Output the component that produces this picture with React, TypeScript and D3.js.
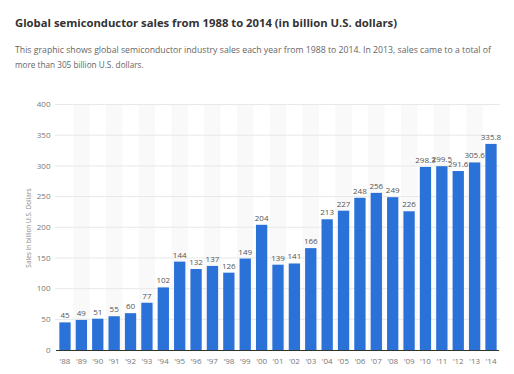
import React from "react";
import * as d3 from "d3";

const years = ["'88","'89","'90","'91","'92","'93","'94","'95","'96","'97","'98","'99","'00","'01","'02","'03","'04","'05","'06","'07","'08","'09","'10","'11","'12","'13","'14"];
const sales = [45,49,51,55,60,77,102,144,132,137,126,149,204,139,141,166,213,227,248,256,249,226,298.3,299.5,291.6,305.6,335.8];
const labels = ["45","49","51","55","60","77","102","144","132","137","126","149","204","139","141","166","213","227","248","256","249","226","298.3","299.5","291.6","305.6","335.8"];
const yTicks = [0,50,100,150,200,250,300,350,400];

const W = 514, H = 374;
const font = "'Open Sans', 'Noto Sans', sans-serif";

export default function App() {
  const x = d3.scaleBand<string>().domain(years).range([56.8, 499.2]).paddingInner(0.31).paddingOuter(0.155);
  const band = d3.scaleBand<string>().domain(years).range([56.8, 499.2]).padding(0);
  const y = d3.scaleLinear().domain([0, 400]).range([350, 104.5]);
  return (
    <svg width={W} height={H} style={{ position: "absolute", left: 0, top: 0, background: "#fff" }} fontFamily={font}>
      <text x={15} y={26.5} fontSize={11.3} fontWeight={700} fill="#333" textLength={382} lengthAdjust="spacingAndGlyphs">Global semiconductor sales from 1988 to 2014 (in billion U.S. dollars)</text>
      <text x={15} y={53} fontSize={8.2} fill="#666" textLength={476} lengthAdjust="spacingAndGlyphs">This graphic shows global semiconductor industry sales each year from 1988 to 2014. In 2013, sales came to a total of</text>
      <text x={15} y={67.5} fontSize={8.2} fill="#666">more than 305 billion U.S. dollars.</text>
      {years.map((yr, i) => i % 2 === 1 ? (
        <rect key={"s" + yr} x={band(yr)} y={y(400)} width={band.bandwidth()} height={y(0) - y(400)} fill="#f9f9f9" />
      ) : null)}
      {yTicks.map(t => (
        <g key={t}>
          {t > 0 && <line x1={55} x2={500} y1={y(t)} y2={y(t)} stroke="#e8e8e8" strokeWidth={1} />}
          <text x={50.5} y={y(t)} dy="0.35em" textAnchor="end" fontSize={8} fill="#777">{t}</text>
        </g>
      ))}
      <text transform={`translate(31,228) rotate(-90)`} textAnchor="middle" fontSize={6.5} fill="#888">Sales in billion U.S. Dollars</text>
      {years.map((yr, i) => (
        <g key={yr}>
          <rect x={x(yr)} y={y(sales[i])} width={x.bandwidth()} height={y(0) - y(sales[i])} fill="#2b72d8" />
          <text x={(x(yr) as number) + x.bandwidth() / 2} y={y(sales[i]) - 4} textAnchor="middle" fontSize={8} fill="#555">{labels[i]}</text>
          <text x={(x(yr) as number) + x.bandwidth() / 2} y={363.5} textAnchor="middle" fontSize={8} fill="#777">{yr}</text>
        </g>
      ))}
      <line x1={56} x2={499} y1={y(0) + 0.5} y2={y(0) + 0.5} stroke="#333" strokeWidth={1} />
    </svg>
  );
}
